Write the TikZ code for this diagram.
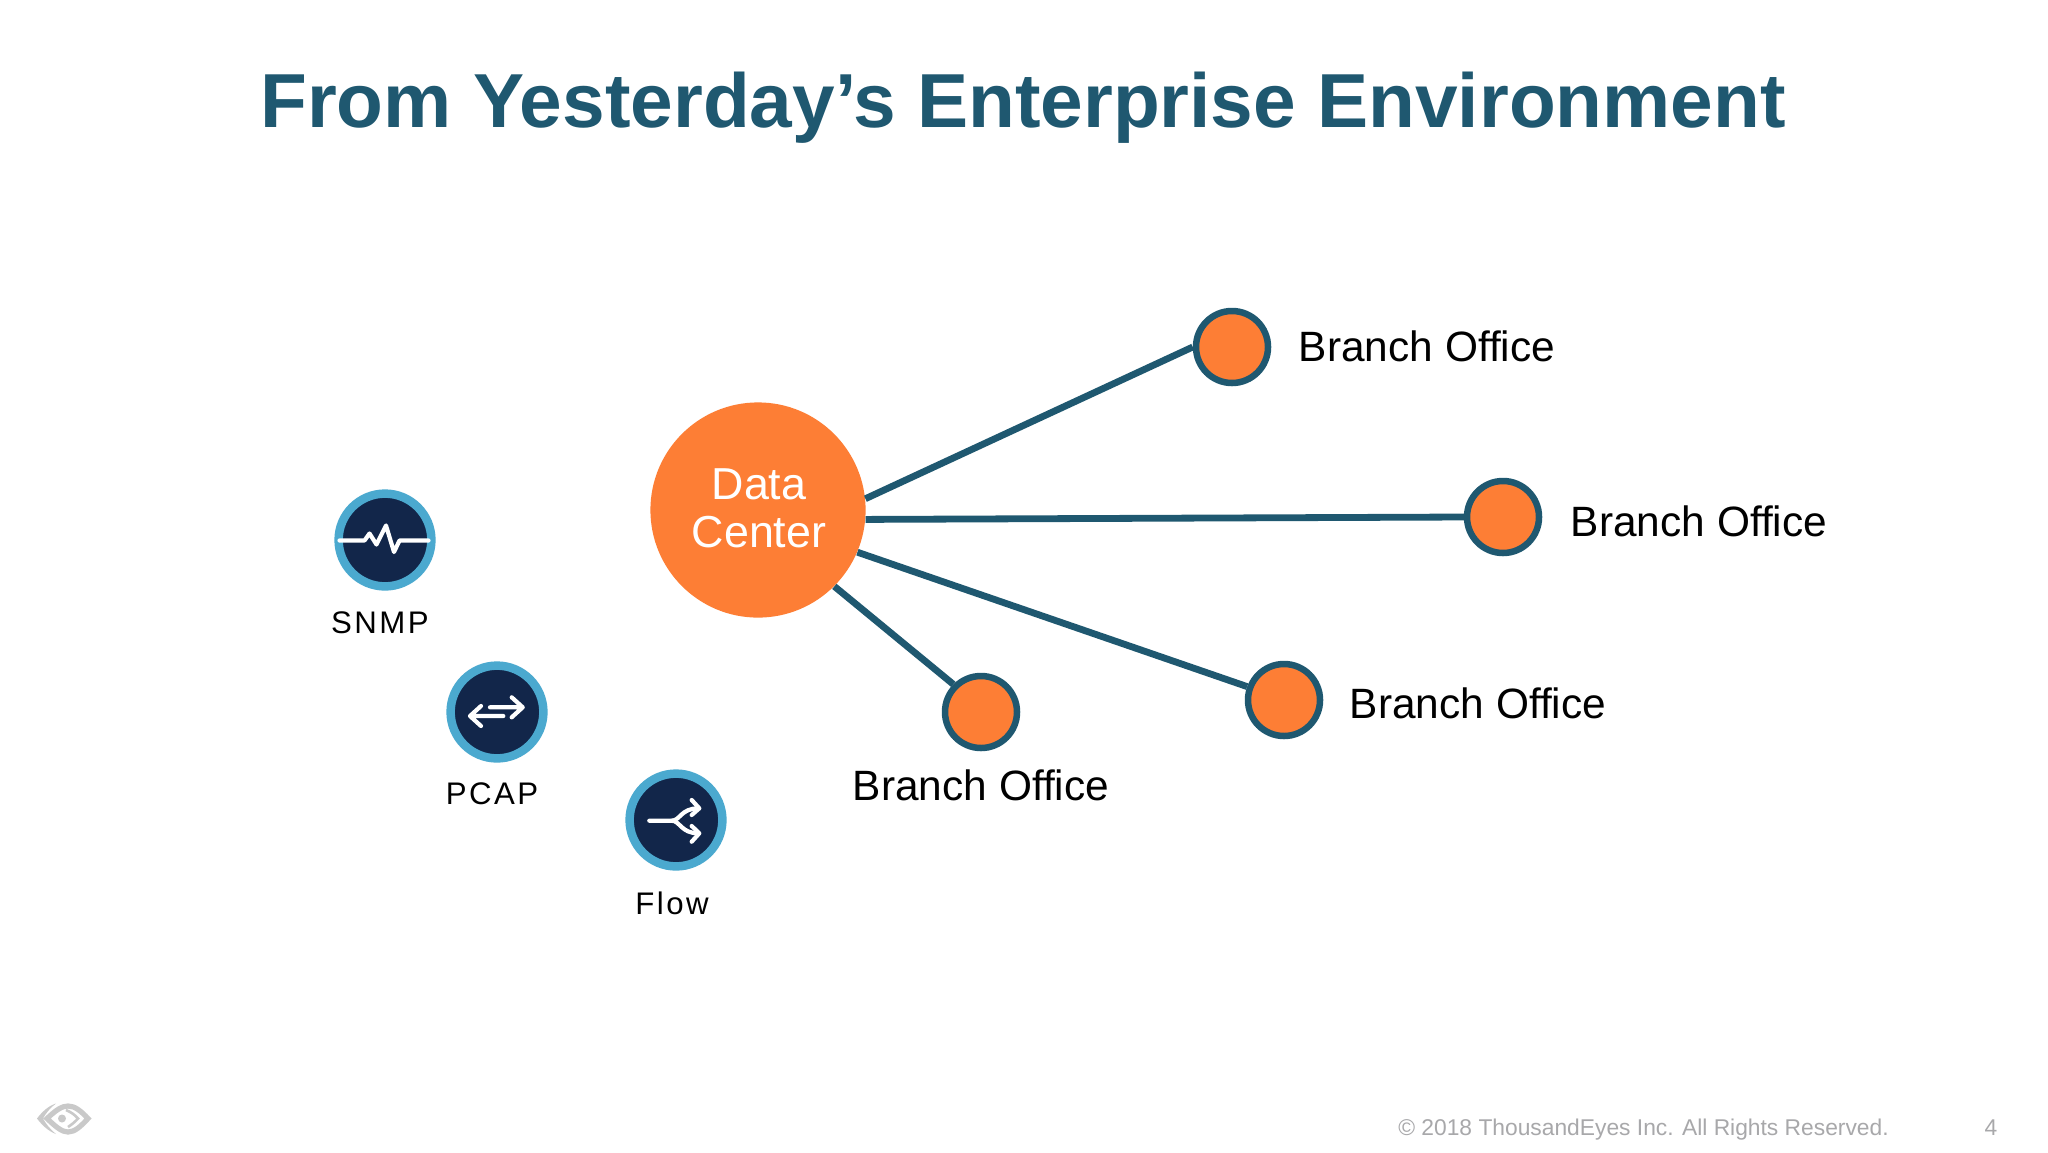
\documentclass[tikz,border=0pt]{standalone}
\usepackage{fontspec}
\setmainfont{Liberation Sans}
\usepackage{tikz}
\definecolor{titleblue}{HTML}{1F5870}
\definecolor{dcorange}{HTML}{FD7E35}
\definecolor{probenavy}{HTML}{12264A}
\definecolor{probering}{HTML}{4BA9CF}
\definecolor{footgray}{HTML}{A8A8AA}
\definecolor{logogray}{HTML}{C9C9C9}
\tikzset{
  dcnode/.style = {circle, fill=dcorange, text=white, minimum size=107.6pt, inner sep=0pt, align=center,
                   font=\fontsize{22.4}{24}\selectfont},
  branch/.style = {circle, draw=titleblue, fill=dcorange, line width=3.25pt, minimum size=36pt, inner sep=0pt},
  branchtext/.style = {anchor=base, inner sep=0pt, font=\fontsize{21.2}{25}\selectfont},
  probe/.style = {circle, draw=probering, fill=probenavy, line width=4.25pt, minimum size=46.4pt, inner sep=0pt},
  probetext/.style = {inner sep=0pt, font=\fontsize{15.6}{18}\selectfont\addfontfeature{LetterSpace=8}},
  link/.style = {draw=titleblue, line width=3.4pt},
  glyph/.style = {draw=white, line width=2.1pt, line cap=round, line join=round},
  foot/.style = {anchor=base, inner sep=0pt, text=footgray, font=\fontsize{11.4}{14}\selectfont}
}
\begin{document}
\begin{tikzpicture}[x=0.5pt,y=-0.5pt]
  \useasboundingbox[fill=white] (0,0) rectangle (2048,1152);

  \node[anchor=base, inner sep=0pt, text=titleblue, font=\fontsize{38.3}{44}\selectfont\bfseries] (title) at (1023,127.5) {From Yesterday’s Enterprise Environment};

  % the text block sits a little above the middle of the circle
  \node[dcnode] (DC) at (758,510) {};
  \node[inner sep=0pt, text=white, align=center, font=\fontsize{22.4}{24}\selectfont] (DC-text) at (759,508) {Data\\Center};

  \foreach \name/\x/\y/\tx/\ty in {B1/1232/347/1427/361, B2/1503/517/1699/536, B3/1284/700/1478/718, B4/981/712/981/800}
  {
    \node[branch] (\name) at (\x,\y) {};
    \node[branchtext] (\name-text) at (\tx,\ty) {Branch Office};
  }

  \draw[link] (DC.6.4) -- (B1.west);
  \draw[link] (DC.-5) -- (B2.west);
  \draw[link] (DC.-23.5) -- (B3.160);
  \draw[link] (DC.-45) -- (B4.135);

  \foreach \name/\x/\y/\tx/\ty/\txt in {SNMP/385/540/380/623/SNMP, PCAP/497/712/492/794/PCAP, FLOW/676/820/672/903/Flow}
  {
    \node[probe] (\name) at (\x,\y) {};
    \node[probetext] (\name-text) at (\tx,\ty) {\txt};
  }

  % icons inside the probes
  \draw[glyph] (339.5,540.5) -- (364.5,540.5) -- (369.5,533.5) -- (376.5,544.5) -- (386,525.5) -- (394,552) -- (399.5,540.5) -- (428.5,540.5);

  \draw[glyph] (490,707.3) -- (522.7,707.3) (511.7,697.3) -- (522.7,707.3) -- (511.7,717.3);
  \draw[glyph] (503.3,716) -- (470,716) (481,706) -- (470,716) -- (481,726);

  \draw[glyph] (649.3,820.7) -- (671.7,820.7) .. controls (680,820.7) and (681,808.3) .. (698.3,808.3);
  \draw[glyph] (671.7,820.7) .. controls (680,820.7) and (681,833.3) .. (698.3,833.3);
  \draw[glyph] (691.7,800) -- (699.3,808.3) -- (691.7,815);
  \draw[glyph] (691.7,826) -- (699.3,833.3) -- (691.7,841.7);

  % logo
  \draw[draw=logogray, line width=2.6pt] (47,1118.5) .. controls (56,1110) and (62,1106) .. (68,1106) .. controls (75,1106) and (81,1111) .. (88,1118.5) .. controls (81,1126) and (75,1132) .. (68,1132) .. controls (62,1132) and (56,1127) .. (47,1118.5) -- cycle;
  \fill[logogray] (56,1103.5) .. controls (48,1106) and (42,1112) .. (37,1118.5) .. controls (42,1125) and (48,1131) .. (56,1134) .. controls (50,1129) and (46,1124) .. (43,1118.5) .. controls (46,1113) and (50,1108) .. (56,1103.5) -- cycle;
  \fill[logogray] (62,1118.5) circle (4);
  \draw[draw=logogray, line width=1.3pt] (66,1110) .. controls (71,1112) and (75,1115) .. (78,1118.5) .. controls (75,1122) and (71,1125) .. (68,1127);

  \node[foot] (copy) at (1643.5,1135) {© 2018 ThousandEyes Inc. All Rights Reserved.};
  \node[foot] (page) at (1991,1135) {4};
\end{tikzpicture}
\end{document}
